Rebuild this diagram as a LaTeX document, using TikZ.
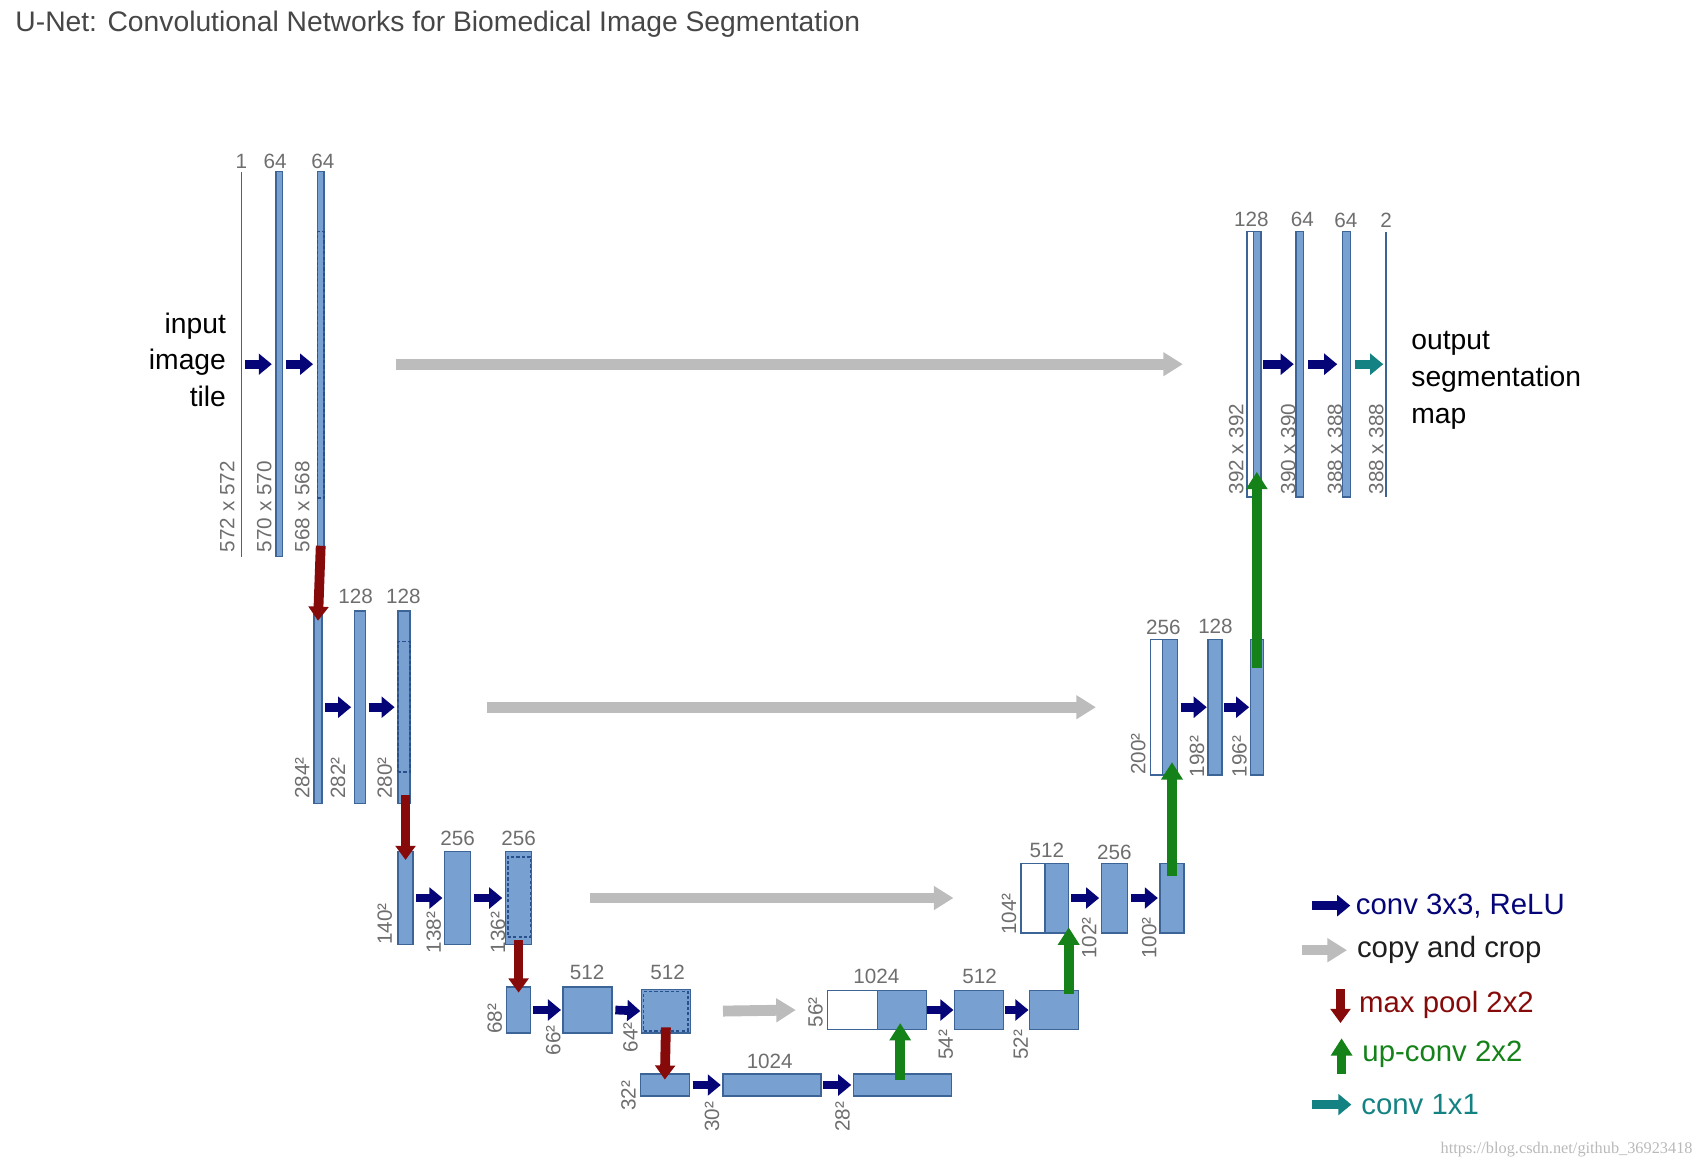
\documentclass[tikz,border=0pt]{standalone}
\usepackage{fontspec}
\setmainfont{Liberation Sans}
\newfontfamily\wmfont{Liberation Serif}
\usetikzlibrary{arrows.meta}
\definecolor{fmfill}{RGB}{120,160,208}
\definecolor{fmdraw}{RGB}{60,100,150}
\definecolor{crop}{RGB}{40,80,140}
\definecolor{navy}{RGB}{5,5,120}
\definecolor{cgray}{RGB}{188,188,188}
\definecolor{pool}{RGB}{135,10,10}
\definecolor{upg}{RGB}{20,130,25}
\definecolor{teal1}{RGB}{20,130,130}
\definecolor{labg}{RGB}{110,110,110}
\newcounter{labc}
\newcommand\fm[6][]{\node[fmap,#1,minimum width={(#4-#2)*1pt},minimum height={(#5-#3)*1pt}] (#6) at ({(#2+#4)/2},{(#3+#5)/2}) {};}
\newcommand\vlab[3]{\stepcounter{labc}\node[vl] (v\thelabc) at (#1,#2) {#3};}
\newcommand\tlab[3]{\stepcounter{labc}\node[tl] (t\thelabc) at (#1,#2) {#3};}
\tikzset{
 fmap/.style={rectangle,inner sep=0,outer sep=0,draw=fmdraw,fill=fmfill,line width=1.3pt},
 white/.style={fill=white},
 thin/.style={fill=fmdraw,draw=none},
 crop/.style={draw=crop,fill=none,dash pattern=on 3pt off 2pt,line width=1.6pt},
 vl/.style={rotate=90,anchor=west,inner sep=0,text=labg,font=\fontsize{19}{19}\selectfont},
 tl/.style={inner sep=0,text=labg,font=\fontsize{19}{19}\selectfont},
 conv/.style={draw=navy,line width=8pt,-{Triangle[length=12pt,width=19pt]}},
 c11/.style={draw=teal1,line width=8pt,-{Triangle[length=12pt,width=19pt]}},
 copy/.style={draw=cgray,line width=10pt,-{Triangle[length=18pt,width=21pt]}},
 pool/.style={draw=pool,line width=9pt,-{Triangle[length=13pt,width=18pt]}},
 up/.style={draw=upg,line width=9pt,-{Triangle[length=16pt,width=19pt]}},
 txt/.style={inner sep=0,font=\fontsize{26}{34}\selectfont},
 leg/.style={inner sep=0,anchor=west,font=\fontsize{27}{30}\selectfont},
}
\begin{document}
\begin{tikzpicture}[x=1pt,y=-1pt]
\useasboundingbox (0,0) rectangle (1560,1071);
\node[inner sep=0,anchor=west,text={rgb,255:red,70;green,70;blue,70},font=\fontsize{26}{30}\selectfont] (title) at (14,22) {U-Net: Convolutional Networks for Biomedical Image Segmentation};
% level 1
\fm[thin]{221.3}{158}{222.7}{512}{a0}
\fm{254}{158}{260}{512}{a1}
\fm{292}{158}{298}{512}{a2}
\fm[crop]{292}{213}{298}{458}{a2c}
\tlab{222}{148}{1}\tlab{253}{148}{64}\tlab{297}{148}{64}
\vlab{209}{508}{572 x 572}\vlab{243}{508}{570 x 570}\vlab{278}{508}{568 x 568}
\draw[conv] ([xshift=3pt]a0.east) -- ([xshift=-4pt]a1.west);
\draw[conv] ([xshift=3pt]a1.east) -- ([xshift=-4pt]a2.west);
\node[txt,align=right,anchor=east] (inp) at (208,331) {input\\image\\tile};
% level 2
\fm{289}{562}{296}{739}{b0}
\fm{326}{562}{336}{739}{b1}
\fm{366}{562}{377}{739}{b2}
\fm[crop]{366}{590}{377}{710}{b2c}
\tlab{327}{549}{128}\tlab{371}{549}{128}
\vlab{278}{735}{284²}\vlab{311}{735}{282²}\vlab{354}{735}{280²}
\draw[conv] ([xshift=3pt]b0.east) -- ([xshift=-3pt]b1.west);
\draw[conv] ([xshift=3pt]b1.east) -- ([xshift=-3pt]b2.west);
\draw[pool] ([yshift=10pt]a2.south) -- ([yshift=-9pt]b0.north);
% level 3
\fm{366}{783}{380}{869}{c0}
\fm{409}{783}{433}{869}{c1}
\fm{465}{783}{489}{869}{c2}
\fm[crop]{467}{788}{488}{862}{c2c}
\tlab{421}{771}{256}\tlab{477}{771}{256}
\vlab{354}{869}{140²}\vlab{399}{877}{138²}\vlab{458}{877}{136²}
\draw[conv] ([xshift=3pt]c0.east) -- ([xshift=-2pt]c1.west);
\draw[conv] ([xshift=3pt]c1.east) -- ([xshift=-3pt]c2.west);
\draw[pool] ([yshift=8pt]b2.south -| c0) -- ([yshift=-8pt]c0.north);
% level 4
\fm{466}{908}{488}{950}{d0}
\fm{518}{908}{563}{950}{d1}
\fm{590}{910}{635}{950}{d2}
\fm[crop]{592}{912}{633}{948}{d2c}
\tlab{540}{894}{512}\tlab{614}{894}{512}
\vlab{455}{951}{68²}\vlab{509}{971}{66²}\vlab{580}{968}{64²}
\draw[conv] ([xshift=2pt]d0.east) -- ([xshift=-2pt]d1.west);
\draw[conv] ([xshift=3pt]d1.east) -- ([xshift=-1pt]d2.west);
\draw[pool] ([yshift=4pt]c2.south) -- ([yshift=-5pt]d0.north);
% level 5
\fm{589}{988}{634}{1008}{e0}
\fm{665}{988}{755}{1008}{e1}
\fm{785}{988}{875}{1008}{e2}
\tlab{708}{976}{1024}
\vlab{578}{1022}{32²}\vlab{655}{1041}{30²}\vlab{775}{1041}{28²}
\draw[conv] ([xshift=3pt]e0.east) -- ([xshift=-2pt]e1.west);
\draw[conv] ([xshift=2pt]e1.east) -- ([xshift=-2pt]e2.west);
\draw[pool] ([yshift=5pt]d2.south) -- ([yshift=-5pt]e0.north);
% level 4 right
\fm[white]{761}{911}{807}{947}{f0}
\fm{807}{911}{852}{947}{f1}
\fm{878}{911}{923}{947}{f2}
\fm{947}{911}{992}{947}{f3}
\tlab{806}{898}{1024}\tlab{901}{898}{512}
\vlab{750}{945}{56²}\vlab{870}{975}{54²}\vlab{939}{975}{52²}
\draw[conv] ([xshift=1pt]f1.east) -- ([xshift=-1pt]f2.west);
\draw[conv] ([xshift=1pt]f2.east) -- ([xshift=-1pt]f3.west);
\coordinate (u1) at (828,0);
\draw[up] ([yshift=-5pt]e2.north -| u1) -- ([yshift=6pt]f1.south -| u1);
\draw[copy] ([xshift=30pt]d2.east) -- ([xshift=-29pt]f0.west);
% level 3 right
\fm[white]{939}{794}{961}{858}{g0}
\fm{961}{794}{983}{858}{g1}
\fm{1013}{794}{1037}{858}{g2}
\fm{1067}{794}{1089}{858}{g3}
\tlab{963}{782}{512}\tlab{1025}{784}{256}
\vlab{928}{860}{104²}\vlab{1002}{882}{102²}\vlab{1057}{882}{100²}
\draw[conv] ([xshift=2pt]g1.east) -- ([xshift=-2pt]g2.west);
\draw[conv] ([xshift=3pt]g2.east) -- ([xshift=-2pt]g3.west);
\draw[up] ([yshift=-3pt]f3.north -| g1.east) -- ([yshift=5pt]g1.south -| g1.east);
\draw[copy] ([xshift=54pt]c2.east) -- ([xshift=-62pt]g0.west);
% level 2 right
\fm[white]{1058}{588}{1069}{713}{h0}
\fm{1069}{588}{1083}{713}{h1}
\fm{1111}{588}{1124}{713}{h2}
\fm{1150}{588}{1162}{713}{h3}
\tlab{1070}{577}{256}\tlab{1118}{576}{128}
\vlab{1047}{713}{200²}\vlab{1101}{715}{198²}\vlab{1140}{715}{196²}
\draw[conv] ([xshift=3pt]h1.east) -- ([xshift=-1pt]h2.west);
\draw[conv] ([xshift=2pt]h2.east) -- ([xshift=-1pt]h3.west);
\draw[up] ([yshift=-12pt]g3.north) -- ([yshift=12pt]h1.south -| g3);
\draw[copy] ([xshift=71pt]b2.east) -- ([xshift=-50pt]h0.west);
% top right
\fm[white]{1147}{213}{1153}{457}{k0}
\fm{1153}{213}{1160}{457}{k1}
\fm{1192}{213}{1199}{457}{k2}
\fm{1235}{213}{1242}{457}{k3}
\fm[thin]{1274.3}{213}{1275.7}{457}{k4}
\tlab{1151}{202}{128}\tlab{1198}{202}{64}\tlab{1238}{203}{64}\tlab{1275}{203}{2}
\vlab{1137}{455}{392 x 392}\vlab{1185}{455}{390 x 390}\vlab{1228}{455}{388 x 388}\vlab{1266}{455}{388 x 388}
\draw[conv] ([xshift=2pt]k1.east) -- ([xshift=-2pt]k2.west);
\draw[conv] ([xshift=4pt]k2.east) -- ([xshift=-5pt]k3.west);
\draw[c11] ([xshift=4pt]k3.east) -- ([xshift=-2pt]k4.west);
\draw[up] ([yshift=-26pt]h3.north) -- ([yshift=23pt]k1.south -| h3);
\draw[copy] ([xshift=66pt]a2.east) -- ([xshift=-59pt]k0.west);
\node[txt,align=left,anchor=west] (outp) at (1298,350) {output\\segmentation\\map};
% legend
\coordinate (l1a) at (1207,833); \coordinate (l1b) at (1242,833);
\draw[conv] (l1a) -- (l1b);
\node[leg,text=navy] (lt1) at (1247,833) {conv 3x3, ReLU};
\coordinate (l2a) at (1198,874); \coordinate (l2b) at (1239,874);
\draw[copy,line width=9pt] (l2a) -- (l2b);
\node[leg,text={rgb,255:red,30;green,30;blue,30}] (lt2) at (1248,874) {copy and crop};
\coordinate (l3a) at (1233,910); \coordinate (l3b) at (1233,941);
\draw[pool] (l3a) -- (l3b);
\node[leg,text=pool] (lt3) at (1250,924) {max pool 2x2};
\coordinate (l4a) at (1234,988); \coordinate (l4b) at (1234,955);
\draw[up] (l4a) -- (l4b);
\node[leg,text=upg] (lt4) at (1253,970) {up-conv 2x2};
\coordinate (l5a) at (1207,1016); \coordinate (l5b) at (1243,1016);
\draw[c11] (l5a) -- (l5b);
\node[leg,text=teal1] (lt5) at (1252,1016) {conv 1x1};
\node[inner sep=0,anchor=east,text={rgb,255:red,185;green,185;blue,185},font=\wmfont\fontsize{15}{15}\selectfont] (wm) at (1557,1057) {https://blog.csdn.net/github\_36923418};
\end{tikzpicture}
\end{document}
